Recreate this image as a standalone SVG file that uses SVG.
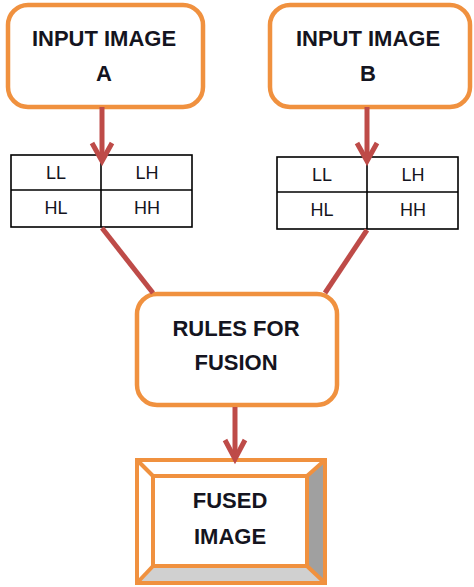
<svg xmlns="http://www.w3.org/2000/svg" width="474" height="587" viewBox="0 0 474 587">
<style>
.box{fill:#fff;stroke:#F0913F;stroke-width:4.5}
.t{font-family:"Liberation Sans",Arial,sans-serif;font-weight:bold;font-size:22px;fill:#141420;text-anchor:middle}
.c{font-family:"Liberation Sans",Arial,sans-serif;font-size:18px;fill:#141420;text-anchor:middle}
.grid{fill:#fff;stroke:#000;stroke-width:1.6}
.con{stroke:#BE4B48;stroke-width:5;fill:none}
.bev{stroke:#F0913F;stroke-width:4;stroke-linejoin:miter}
</style>
<rect width="474" height="587" fill="#fff"/>
<g id="inputA">
<rect class="box" x="8" y="5" width="195" height="102" rx="20"/>
<text class="t" x="104" y="46">INPUT IMAGE</text>
<text class="t" x="104" y="81">A</text>
</g>
<g id="inputB">
<rect class="box" x="270" y="5" width="200" height="102" rx="20"/>
<text class="t" x="368" y="46">INPUT IMAGE</text>
<text class="t" x="368" y="81">B</text>
</g>
<g id="tableA">
<rect class="grid" x="11" y="155" width="181" height="72"/>
<line class="grid" x1="11" y1="190" x2="192" y2="190"/>
<line class="grid" x1="101" y1="155" x2="101" y2="227"/>
<text class="c" x="56" y="179">LL</text>
<text class="c" x="147" y="179">LH</text>
<text class="c" x="56" y="214">HL</text>
<text class="c" x="147" y="214">HH</text>
</g>
<g id="tableB">
<rect class="grid" x="277" y="157" width="181" height="72"/>
<line class="grid" x1="277" y1="192" x2="458" y2="192"/>
<line class="grid" x1="367" y1="157" x2="367" y2="229"/>
<text class="c" x="322" y="181">LL</text>
<text class="c" x="413" y="181">LH</text>
<text class="c" x="322" y="216">HL</text>
<text class="c" x="413" y="216">HH</text>
</g>
<g id="rules">
<rect class="box" x="137" y="294" width="200" height="111" rx="20"/>
<text class="t" x="236" y="336">RULES FOR</text>
<text class="t" x="236" y="370">FUSION</text>
</g>
<g id="fused">
<polygon points="137,460 325,460 307,476 153,476" fill="#fff"/>
<polygon points="137,460 153,476 153,566 137,583" fill="#fff"/>
<polygon points="325,460 325,583 307,566 307,476" fill="#A0A0A0"/>
<polygon points="137,583 325,583 307,566 153,566" fill="#D0D0D0"/>
<rect x="153" y="476" width="154" height="90" fill="#fff"/>
<rect class="bev" x="137" y="460" width="188" height="123" fill="none"/>
<rect class="bev" x="153" y="476" width="154" height="90" fill="none"/>
<line class="bev" x1="137" y1="460" x2="153" y2="476"/>
<line class="bev" x1="325" y1="460" x2="307" y2="476"/>
<line class="bev" x1="137" y1="583" x2="153" y2="566"/>
<line class="bev" x1="325" y1="583" x2="307" y2="566"/>
<text class="t" x="230" y="508">FUSED</text>
<text class="t" x="230" y="544">IMAGE</text>
</g>
<g id="connectors">
<line class="con" x1="102" y1="107" x2="102" y2="160"/>
<polyline class="con" points="92,143 102,161 112,143"/>
<line class="con" x1="367" y1="107" x2="367" y2="160"/>
<polyline class="con" points="357,143 367,161 377,143"/>
<line class="con" x1="102" y1="228" x2="153" y2="293"/>
<line class="con" x1="367" y1="230" x2="325" y2="293"/>
<line class="con" x1="235" y1="407" x2="235" y2="458"/>
<polyline class="con" points="225,440 235,459 245,440"/>
</g>
</svg>
